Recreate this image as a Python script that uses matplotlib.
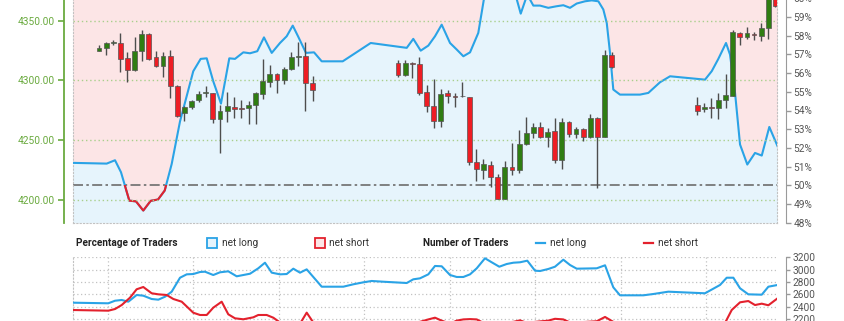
import matplotlib
matplotlib.use('Agg')
import matplotlib.pyplot as plt
import numpy as np
from matplotlib.patches import Rectangle
from matplotlib.lines import Line2D

plt.rcParams['font.family'] = ['Roboto', 'DejaVu Sans']

# ---------------- data ----------------
candle_slot = [0, 1, 2, 3, 4, 5, 6, 7, 8, 9, 10, 11, 12, 13, 14, 15, 16, 17, 18, 19, 20,
               21, 22, 23, 24, 25, 26, 27, 28, 29, 30,
               42, 43, 44, 45, 46, 47, 48, 49, 50, 51, 52, 53, 54, 55, 56, 57, 58, 59, 60,
               61, 62, 63, 64, 65, 66, 67, 68, 69, 70, 71, 72,
               84, 85, 86, 87, 88, 89, 90, 91, 92, 93, 94, 95]
open_ = [4325, 4327, 4331.5, 4331.6, 4318.5, 4308.5, 4325, 4339, 4319.4, 4312.4, 4320.7,
         4295.6, 4273, 4278.1, 4283.9, 4289.4, 4289.3, 4267.5, 4274.7, 4278.1, 4276.9,
         4277.2, 4279.6, 4288.7, 4299, 4305.7, 4300.4, 4309.3, 4320, 4320.5, 4297.6,
         4314.4, 4304.6, 4314.9, 4313.5, 4290.1, 4278.9, 4266.3, 4289.3, 4286.8, 4287,
         4286.4, 4231.5, 4225, 4229.5, 4219.5, 4200.6, 4227.4, 4225.5, 4246.8, 4255.8,
         4261.3, 4253, 4257.7, 4233.5, 4265, 4255.2, 4259.1, 4253, 4268.9, 4252.5, 4321.3,
         4279.2, 4275.9, 4277.7, 4277.2, 4283.7, 4287.3, 4339.5, 4336, 4338.9, 4337.2,
         4343.6, 4372]
high = [4330, 4332, 4334, 4339.5, 4323.6, 4336.6, 4342, 4339.5, 4324.9, 4323.6, 4325.5,
        4296, 4278.6, 4283.5, 4291.2, 4295.4, 4289.8, 4279.5, 4290.6, 4286.4, 4283.7,
        4283.1, 4290.6, 4318.2, 4312.9, 4306, 4311.5, 4323.6, 4332.4, 4332.4, 4303.7,
        4317.1, 4317.1, 4315.7, 4319.9, 4296.2, 4301.2, 4292.6, 4292, 4289.8, 4299,
        4286.4, 4242.4, 4234, 4232.6, 4222.1, 4232.9, 4247.4, 4258.6, 4269.2, 4264.2,
        4265.5, 4260.5, 4268.3, 4268.3, 4266.3, 4261.3, 4260, 4272, 4269.7, 4325.5, 4324.1,
        4286.4, 4281, 4285.1, 4289.8, 4305.4, 4342.2, 4340.8, 4345, 4340.8, 4347.8,
        4376, 4374]
low = [4324.5, 4321, 4330, 4307.3, 4298.5, 4307.9, 4316, 4317, 4311.5, 4303.2, 4285.6,
       4269.5, 4266, 4276.5, 4282.4, 4286.4, 4264, 4239, 4265, 4268.3, 4268.3,
       4263.6, 4263.3, 4284.7, 4294.8, 4289.8, 4297, 4308.8, 4312.1, 4274.5, 4283.1,
       4303.2, 4303.7, 4301.8, 4287.8, 4273.9, 4260, 4260.9, 4281.4, 4278.1, 4286.4,
       4229.3, 4216.2, 4217.3, 4211.1, 4200.8, 4200.6, 4220.9, 4222.7, 4246, 4251.6,
       4251.6, 4244, 4230.6, 4226, 4252.5, 4251.6, 4249.6, 4251.6, 4209.8, 4252.5, 4310.7,
       4271.1, 4273.9, 4268.3, 4267.8, 4276.7, 4287.3, 4329.7, 4334.7, 4333.9, 4333.3,
       4334.4, 4361.7]
close = [4327, 4331, 4332, 4318.2, 4308.5, 4324.6, 4339, 4318, 4312.4, 4320.7, 4295.6,
         4270.3, 4278.1, 4283.1, 4288.9, 4289.9, 4267.5, 4274.5, 4278.6, 4276.1, 4276.5,
         4279.2, 4289.3, 4299.8, 4305.7, 4300.4, 4309.3, 4319.9, 4320.5, 4297.6, 4292,
         4304.6, 4314.4, 4313.5, 4289.3, 4278.9, 4266.3, 4288.7, 4287.3, 4286.5, 4286.6,
         4232, 4226, 4229.9, 4219.5, 4200.8, 4227.9, 4225, 4246.8, 4255.8, 4261.3,
         4253, 4257.1, 4233.5, 4265, 4255.2, 4259.1, 4253, 4268.9, 4252.5, 4321.3, 4311.5,
         4274.7, 4278.1, 4277.2, 4283.7, 4287.8, 4340.3, 4336.1, 4339.5, 4337.8, 4343.6,
         4372, 4362.3]

# net-long percentage (right axis)
pct_slot = [-3.7, 1.08, 2.25, 3.09, 4.26, 5.2, 6.22, 7.26, 8.29, 9.23, 10.21, 11.38, 13.24,
            14.28, 15.13, 16.05, 17.13, 18.3, 19.1, 20.27, 21.21, 22.23, 23.17, 24.26,
            25.42, 26.36, 27.21, 27.99, 29.07, 30.2, 31.28, 34.23, 38.16, 43.22, 44.14,
            45.18, 46.25, 47.19, 48.13, 49.3, 50.24, 51.17, 52.11, 53.27, 54.21, 55.15,
            56.22, 57.26, 58.19, 59.23, 60.15, 61.0, 61.94, 63.1, 64.19, 65.21, 66.15,
            67.09, 68.26, 69.2, 70.13, 70.83, 71.31, 71.77, 72.23, 73.17, 75.98, 77.15,
            78.79, 80.2, 85.11, 86.05, 86.98, 88.06, 88.62, 89.33, 90.03, 91.05, 92.13,
            93.08, 94.14, 95.3]
pct_long = [51.2, 51.16, 51.34, 50.7, 49.18, 49.14, 48.65, 49.17, 49.24, 49.72, 51.14,
            53.42, 56.1, 56.76, 56.79, 55.56, 54.37, 56.79, 56.76, 57.11, 57.06, 57.17,
            57.91, 57.08, 57.61, 57.97, 58.54, 57.94, 57.08, 57.11, 56.63, 56.63, 57.61,
            57.35, 57.83, 57.2, 57.47, 57.97, 58.59, 57.61, 57.26, 56.9, 57.11, 58.15,
            60.3, 61.3, 60.8, 61.0, 60.6, 59.18, 60.2, 59.61, 59.61, 59.49, 59.57, 59.63,
            59.49, 59.72, 59.84, 59.89, 59.84, 59.4, 58.68, 57.08, 55.12, 54.85, 54.85,
            54.94, 55.51, 55.83, 55.65, 56.1, 56.76, 57.61, 56.99, 54.94, 52.18, 51.11,
            51.73, 51.59, 53.12, 52.09]

# number of traders
num_long_slot = [-3.7, 1.31, 2.25, 3.19, 4.12, 5.29, 6.22, 7.4, 8.33, 9.27, 10.21, 11.38,
                 12.32, 13.24, 14.19, 14.89, 16.05, 16.99, 18.16, 19.34, 20.27, 21.21,
                 22.37, 23.31, 24.26, 25.42, 26.36, 27.29, 28.23, 29.17, 31.28, 34.31,
                 35.72, 37.12, 38.3, 39.93, 43.22, 44.14, 45.08, 46.25, 47.19, 48.13, 49.3,
                 50.24, 51.17, 52.11, 53.05, 54.21, 55.15, 56.22, 57.26, 58.19, 59.13,
                 60.15, 61.24, 61.94, 63.1, 64.04, 65.21, 66.15, 67.09, 69.9, 71.07, 72.23,
                 73.17, 76.45, 77.85, 79.96, 82.07, 85.11, 87.22, 88.16, 89.09, 90.03,
                 91.19, 93.08, 94.01, 95.3]
num_long = [2462, 2452, 2494, 2506, 2478, 2587, 2576, 2522, 2511, 2559, 2641, 2868, 2923,
            2928, 2961, 2966, 2912, 2956, 2972, 2891, 2912, 2933, 3021, 3112, 2950, 2923,
            2928, 3015, 2950, 3004, 2722, 2722, 2761, 2793, 2815, 2803, 2782, 2842, 2858,
            2923, 3059, 3054, 2912, 2880, 2880, 2923, 3021, 3184, 3119, 3047, 3091, 3112,
            3119, 3145, 2982, 2977, 3010, 3047, 3161, 3075, 3015, 3021, 3070, 2712, 2582,
            2582, 2603, 2641, 2630, 2615, 2750, 2868, 2868, 2696, 2598, 2592, 2722, 2750]
num_short_slot = [-3.7, 1.31, 2.25, 3.19, 4.35, 5.29, 6.22, 7.4, 8.33, 9.51, 10.44, 11.62,
                  13.24, 14.19, 15.13, 16.05, 17.23, 18.16, 19.1, 20.27, 21.67, 22.37,
                  23.55, 24.48, 25.42, 26.36, 27.29, 28.23, 29.17, 30.1, 31.28, 34.31,
                  37.12, 39.93, 43.22, 45.08, 46.25, 47.19, 48.13, 49.3, 50.24, 51.17,
                  52.11, 53.05, 54.21, 55.15, 56.22, 58.19, 59.13, 60.15, 61.24, 63.1,
                  64.04, 65.21, 66.15, 67.09, 69.9, 71.07, 72.23, 73.17, 76.45, 79.96,
                  85.11, 87.22, 88.0, 88.86, 90.03, 91.19, 92.13, 93.08, 94.01, 95.3]
num_short = [2343, 2332, 2359, 2424, 2543, 2680, 2717, 2615, 2598, 2587, 2522, 2478, 2299,
             2262, 2262, 2381, 2478, 2273, 2208, 2192, 2224, 2262, 2262, 2218, 2140, 2120,
             2150, 2120, 2300, 2140, 2060, 2060, 2080, 2100, 2120, 2150, 2190, 2218, 2170,
             2120, 2170, 2190, 2195, 2190, 2120, 2140, 2130, 2150, 2175, 2130, 2150, 2170,
             2200, 2190, 2140, 2140, 2160, 2230, 2150, 2110, 2100, 2110, 2120, 2120, 2150,
             2343, 2468, 2489, 2424, 2446, 2420, 2533]

price_ticks = [4200, 4250, 4300, 4350]
pct_ticks = list(range(48, 61))
num_ticks = [2200, 2400, 2600, 2800, 3000, 3200]
grid_slots = [1.26 + 12 * k for k in range(8)]

# ---------------- style ----------------
W, H = 845, 321
BLUE = '#2aa3e6'
RED = '#e3212d'
PINK = '#fce5e6'
LBLUE = '#e6f4fc'
GREEN_AX = '#6aaa3f'
GRID_G = '#a9cf8c'
GRID_V = '#c2c2c2'
TXT = '#555555'
C_UP = '#2f7d12'
C_DN = '#ee1d24'

fig = plt.figure(figsize=(W / 100, H / 100), dpi=100)

def fx(px):
    return px / W

def fy(py):
    return 1 - py / H

XL = (-3.65, 95.22)

# top panel: 73..777 px horizontally, -20.4..222.7 vertically
ax = fig.add_axes([fx(73), fy(222.7), (777 - 73) / W, (222.7 + 20.4) / H])
ax2 = ax.twinx()
ax.set_zorder(ax2.get_zorder() + 1)
ax.patch.set_visible(False)

ax.set_xlim(*XL)
ax.set_ylim(4181.0, 4384.4)
ax2.set_ylim(48, 61)

# fills + line on pct axis
ax2.fill_between(pct_slot, pct_long, 61, color=PINK, lw=0, zorder=0)
ax2.fill_between(pct_slot, 48, pct_long, color=LBLUE, lw=0, zorder=0)
ax2.plot(pct_slot, pct_long, color=BLUE, lw=1.5, zorder=3, solid_joinstyle='round')
red_line, = ax2.plot(pct_slot, pct_long, color=RED, lw=1.5, zorder=4, solid_joinstyle='round')
clip = Rectangle((XL[0], 40), XL[1] - XL[0], 10, transform=ax2.transData)
red_line.set_clip_path(clip)
ax2.axhline(50, color='#6d6d6d', lw=1.2, dashes=(6, 2, 1.5, 2), zorder=2)

# vertical grid
ax2.set_xticks(grid_slots)
ax2.xaxis.grid(True, color=GRID_V, lw=0.9, linestyle=(0, (1, 2)))
ax2.tick_params(axis='x', length=0, labelbottom=False)

# candles
o = np.array(open_); c = np.array(close); hi = np.array(high); lo = np.array(low)
xs = np.array(candle_slot)
up = c >= o
ax.vlines(xs, lo, hi, color='#4d4d4d', lw=1.0, zorder=3)
bottoms = np.minimum(o, c)
heights = np.maximum(np.abs(c - o), 0.7)
ax.bar(xs, heights, bottom=bottoms, width=0.68,
       color=np.where(up, C_UP, C_DN), edgecolor='#555555', linewidth=0.5, zorder=4)

# price axis (left, green)
ax.set_yticks(price_ticks)
ax.set_yticklabels([f'{v:.2f}' for v in price_ticks])
ax.yaxis.grid(True, color=GRID_G, lw=1.0, linestyle=(0, (1, 2)), zorder=1)
ax.set_axisbelow(False)
ax.set_xticks([])
for s in ['top']:
    ax.spines[s].set_visible(False)
ax.spines['left'].set_position(('outward', 6.5))
ax.spines['left'].set_color(GREEN_AX)
ax.spines['left'].set_linewidth(1.3)
ax.spines['bottom'].set_color(GRID_V)
ax.spines['bottom'].set_linestyle((0, (1, 2)))
ax.spines['right'].set_color(GRID_V)
ax.spines['right'].set_linestyle((0, (1, 2)))
ax.tick_params(axis='y', colors=GREEN_AX, labelcolor=GREEN_AX, length=4.3, width=1.2,
               pad=2, labelsize=7.3)

ax2.set_yticks(pct_ticks)
ax2.set_yticklabels([f'{v}%' for v in pct_ticks])
for s in ['top', 'bottom']:
    ax2.spines[s].set_visible(False)
ax2.spines['left'].set_color(GRID_V)
ax2.spines['left'].set_linestyle((0, (1, 2)))
ax2.spines['right'].set_position(('outward', 6.2))
ax2.spines['right'].set_color('#9a9a9a')
ax2.tick_params(axis='y', colors='#9a9a9a', labelcolor=TXT, length=3.6, width=1,
                pad=2, labelsize=7.3)

# ---------------- legend row ----------------
ly = fy(242.7)
fig.text(fx(76), ly, 'Percentage of Traders', fontsize=7.2, fontweight='bold',
         color='#222222', va='center', ha='left')
fig.patches.append(Rectangle((fx(207.5), fy(247.5)), 10 / W, 10 / H, transform=fig.transFigure,
                             facecolor=LBLUE, edgecolor=BLUE, lw=1.3))
fig.text(fx(222), ly, 'net long', fontsize=7.2, color='#333333', va='center', ha='left')
fig.patches.append(Rectangle((fx(315.5), fy(247.5)), 10 / W, 10 / H, transform=fig.transFigure,
                             facecolor=PINK, edgecolor=RED, lw=1.3))
fig.text(fx(329.5), ly, 'net short', fontsize=7.2, color='#333333', va='center', ha='left')
fig.text(fx(423.5), ly, 'Number of Traders', fontsize=7.2, fontweight='bold',
         color='#222222', va='center', ha='left')
fig.lines.append(Line2D([fx(536), fx(545)], [ly, ly], transform=fig.transFigure,
                        color=BLUE, lw=1.6))
fig.text(fx(550), ly, 'net long', fontsize=7.2, color='#333333', va='center', ha='left')
fig.lines.append(Line2D([fx(644), fx(653)], [ly, ly], transform=fig.transFigure,
                        color=RED, lw=1.6))
fig.text(fx(658.5), ly, 'net short', fontsize=7.2, color='#333333', va='center', ha='left')

# ---------------- bottom panel ----------------
bx = fig.add_axes([fx(73), fy(345), (777 - 73) / W, (345 - 257.3) / H])
bx.set_xlim(*XL)
bx.set_ylim(1774, 3200)
bx.plot(num_long_slot, num_long, color=BLUE, lw=1.5, zorder=3)
bx.plot(num_short_slot, num_short, color=RED, lw=1.5, zorder=3)
bx.set_xticks(grid_slots)
bx.xaxis.grid(True, color=GRID_V, lw=0.9, linestyle=(0, (1, 2)))
bx.yaxis.grid(True, color=GRID_V, lw=0.9, linestyle=(0, (1, 2)))
bx.tick_params(axis='x', length=0, labelbottom=False)
bx.yaxis.tick_right()
bx.set_yticks(num_ticks)
bx.set_yticklabels([str(v) for v in num_ticks])
for s in ['top', 'bottom']:
    bx.spines[s].set_visible(False)
bx.spines['left'].set_color(GRID_V)
bx.spines['left'].set_linestyle((0, (1, 2)))
bx.spines['right'].set_position(('outward', 6.5))
bx.spines['right'].set_color('#9a9a9a')
bx.tick_params(axis='y', colors='#9a9a9a', labelcolor=TXT, length=3, width=1,
               pad=2, labelsize=7.3)

fig.savefig('out.png', dpi=100)
